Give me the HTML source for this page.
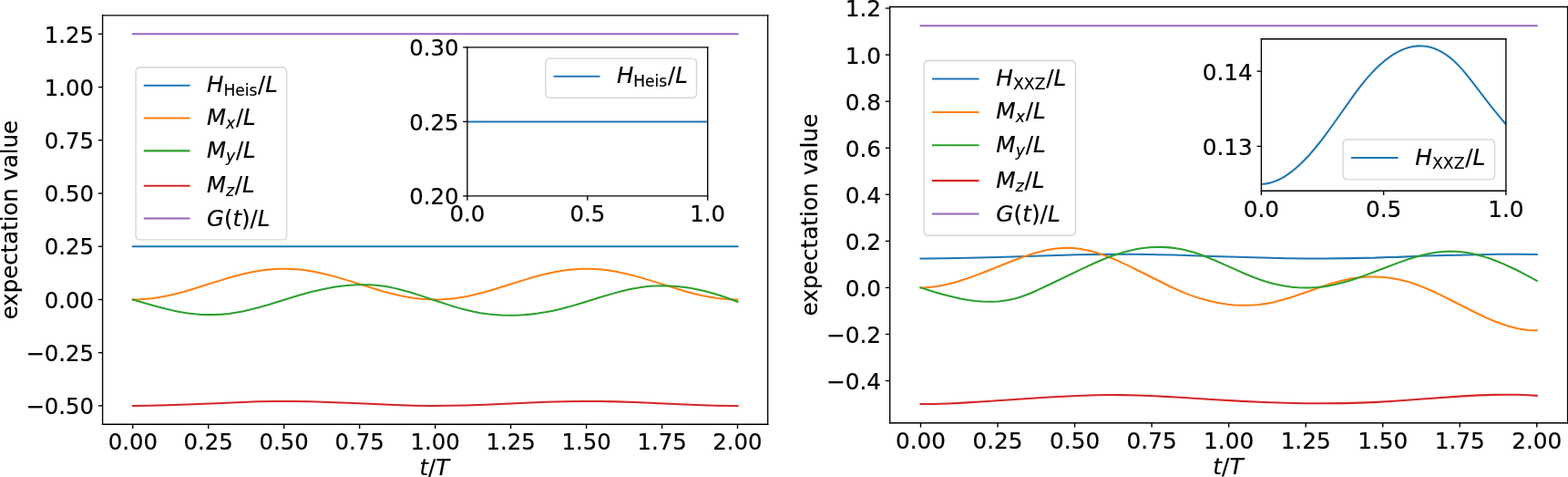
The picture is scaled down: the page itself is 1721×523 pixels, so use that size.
<!DOCTYPE html>
<html><head><meta charset="utf-8"><title>figure</title>
<style>html,body{margin:0;padding:0;background:#fff;overflow:hidden;width:1721px;height:523px;position:relative}svg{display:block;overflow:visible}
text{font-family:"DejaVu Sans",sans-serif;stroke:#000;stroke-width:0.15}</style></head>
<body>
<svg style="position:absolute;left:0px;top:0" width="862px" height="523px" viewBox="0 0 636.005903 385.882932" version="1.1">
<style>*{stroke-linejoin: round; stroke-linecap: butt}</style>
<g id="figure_1">
<g id="axes_1">
<g id="patch_1">
<path d="M 83.079193 343.310379 
L 621.765863 343.310379 
L 621.765863 12.469257 
L 83.079193 12.469257 
z
" style="fill: #ffffff"/>
</g>
<g id="matplotlib.axis_1">
<g id="xtick_1">
<g id="line2d_1">
<g>
<path d="M 0 0 
L 0 3.5 
" transform="translate(107.564951 343.310379)" style="stroke: #000000"/>
</g>
</g>
<g id="text_1">
<text style="font-size: 18px; font-family: 'DejaVu Sans', sans-serif; text-anchor: middle" x="107.564951" y="363.987566" transform="rotate(-0 107.564951 363.987566)">0.00</text>
</g>
</g>
<g id="xtick_2">
<g id="line2d_2">
<g>
<path d="M 0 0 
L 0 3.5 
" transform="translate(168.779345 343.310379)" style="stroke: #000000"/>
</g>
</g>
<g id="text_2">
<text style="font-size: 18px; font-family: 'DejaVu Sans', sans-serif; text-anchor: middle" x="168.779345" y="363.987566" transform="rotate(-0 168.779345 363.987566)">0.25</text>
</g>
</g>
<g id="xtick_3">
<g id="line2d_3">
<g>
<path d="M 0 0 
L 0 3.5 
" transform="translate(229.99374 343.310379)" style="stroke: #000000"/>
</g>
</g>
<g id="text_3">
<text style="font-size: 18px; font-family: 'DejaVu Sans', sans-serif; text-anchor: middle" x="229.99374" y="363.987566" transform="rotate(-0 229.99374 363.987566)">0.50</text>
</g>
</g>
<g id="xtick_4">
<g id="line2d_4">
<g>
<path d="M 0 0 
L 0 3.5 
" transform="translate(291.208134 343.310379)" style="stroke: #000000"/>
</g>
</g>
<g id="text_4">
<text style="font-size: 18px; font-family: 'DejaVu Sans', sans-serif; text-anchor: middle" x="291.208134" y="363.987566" transform="rotate(-0 291.208134 363.987566)">0.75</text>
</g>
</g>
<g id="xtick_5">
<g id="line2d_5">
<g>
<path d="M 0 0 
L 0 3.5 
" transform="translate(352.422528 343.310379)" style="stroke: #000000"/>
</g>
</g>
<g id="text_5">
<text style="font-size: 18px; font-family: 'DejaVu Sans', sans-serif; text-anchor: middle" x="352.422528" y="363.987566" transform="rotate(-0 352.422528 363.987566)">1.00</text>
</g>
</g>
<g id="xtick_6">
<g id="line2d_6">
<g>
<path d="M 0 0 
L 0 3.5 
" transform="translate(413.636923 343.310379)" style="stroke: #000000"/>
</g>
</g>
<g id="text_6">
<text style="font-size: 18px; font-family: 'DejaVu Sans', sans-serif; text-anchor: middle" x="413.636923" y="363.987566" transform="rotate(-0 413.636923 363.987566)">1.25</text>
</g>
</g>
<g id="xtick_7">
<g id="line2d_7">
<g>
<path d="M 0 0 
L 0 3.5 
" transform="translate(474.851317 343.310379)" style="stroke: #000000"/>
</g>
</g>
<g id="text_7">
<text style="font-size: 18px; font-family: 'DejaVu Sans', sans-serif; text-anchor: middle" x="474.851317" y="363.987566" transform="rotate(-0 474.851317 363.987566)">1.50</text>
</g>
</g>
<g id="xtick_8">
<g id="line2d_8">
<g>
<path d="M 0 0 
L 0 3.5 
" transform="translate(536.065711 343.310379)" style="stroke: #000000"/>
</g>
</g>
<g id="text_8">
<text style="font-size: 18px; font-family: 'DejaVu Sans', sans-serif; text-anchor: middle" x="536.065711" y="363.987566" transform="rotate(-0 536.065711 363.987566)">1.75</text>
</g>
</g>
<g id="xtick_9">
<g id="line2d_9">
<g>
<path d="M 0 0 
L 0 3.5 
" transform="translate(597.280106 343.310379)" style="stroke: #000000"/>
</g>
</g>
<g id="text_9">
<text style="font-size: 18px; font-family: 'DejaVu Sans', sans-serif; text-anchor: middle" x="597.280106" y="363.987566" transform="rotate(-0 597.280106 363.987566)">2.00</text>
</g>
</g>
<g id="xlab">
<g transform="translate(339.698 385.408)">
<text>
<tspan x="0" y="-0.875" style="font-style: oblique; font-size: 18px; font-family: 'DejaVu Sans', sans-serif">t</tspan>
<tspan x="13.12207" y="-0.875" style="font-style: oblique; font-size: 18px; font-family: 'DejaVu Sans', sans-serif">T</tspan>
<tspan x="7.057617" y="-0.875" style="font-size: 18px; font-family: 'DejaVu Sans', sans-serif">/</tspan>
</text>
</g>
</g>
</g>
<g id="matplotlib.axis_2">
<g id="ytick_1">
<g id="line2d_10">
<g>
<path d="M 0 0 
L -3.5 0 
" transform="translate(83.079193 328.272146)" style="stroke: #000000"/>
</g>
</g>
<g id="text_10">
<text style="font-size: 18px; font-family: 'DejaVu Sans', sans-serif; text-anchor: end" x="76.079193" y="335.11074" transform="rotate(-0 76.079193 335.11074)">−0.50</text>
</g>
</g>
<g id="ytick_2">
<g id="line2d_11">
<g>
<path d="M 0 0 
L -3.5 0 
" transform="translate(83.079193 285.305767)" style="stroke: #000000"/>
</g>
</g>
<g id="text_11">
<text style="font-size: 18px; font-family: 'DejaVu Sans', sans-serif; text-anchor: end" x="76.079193" y="292.14436" transform="rotate(-0 76.079193 292.14436)">−0.25</text>
</g>
</g>
<g id="ytick_3">
<g id="line2d_12">
<g>
<path d="M 0 0 
L -3.5 0 
" transform="translate(83.079193 242.339387)" style="stroke: #000000"/>
</g>
</g>
<g id="text_12">
<text style="font-size: 18px; font-family: 'DejaVu Sans', sans-serif; text-anchor: end" x="76.079193" y="249.177981" transform="rotate(-0 76.079193 249.177981)">0.00</text>
</g>
</g>
<g id="ytick_4">
<g id="line2d_13">
<g>
<path d="M 0 0 
L -3.5 0 
" transform="translate(83.079193 199.373008)" style="stroke: #000000"/>
</g>
</g>
<g id="text_13">
<text style="font-size: 18px; font-family: 'DejaVu Sans', sans-serif; text-anchor: end" x="76.079193" y="206.211601" transform="rotate(-0 76.079193 206.211601)">0.25</text>
</g>
</g>
<g id="ytick_5">
<g id="line2d_14">
<g>
<path d="M 0 0 
L -3.5 0 
" transform="translate(83.079193 156.406628)" style="stroke: #000000"/>
</g>
</g>
<g id="text_14">
<text style="font-size: 18px; font-family: 'DejaVu Sans', sans-serif; text-anchor: end" x="76.079193" y="163.245222" transform="rotate(-0 76.079193 163.245222)">0.50</text>
</g>
</g>
<g id="ytick_6">
<g id="line2d_15">
<g>
<path d="M 0 0 
L -3.5 0 
" transform="translate(83.079193 113.440249)" style="stroke: #000000"/>
</g>
</g>
<g id="text_15">
<text style="font-size: 18px; font-family: 'DejaVu Sans', sans-serif; text-anchor: end" x="76.079193" y="120.278843" transform="rotate(-0 76.079193 120.278843)">0.75</text>
</g>
</g>
<g id="ytick_7">
<g id="line2d_16">
<g>
<path d="M 0 0 
L -3.5 0 
" transform="translate(83.079193 70.473869)" style="stroke: #000000"/>
</g>
</g>
<g id="text_16">
<text style="font-size: 18px; font-family: 'DejaVu Sans', sans-serif; text-anchor: end" x="76.079193" y="77.312463" transform="rotate(-0 76.079193 77.312463)">1.00</text>
</g>
</g>
<g id="ytick_8">
<g id="line2d_17">
<g>
<path d="M 0 0 
L -3.5 0 
" transform="translate(83.079193 27.50749)" style="stroke: #000000"/>
</g>
</g>
<g id="text_17">
<text style="font-size: 18px; font-family: 'DejaVu Sans', sans-serif; text-anchor: end" x="76.079193" y="34.346084" transform="rotate(-0 76.079193 34.346084)">1.25</text>
</g>
</g>
<g id="ylab">
<text style="font-size: 18px; font-family: 'DejaVu Sans', sans-serif; text-anchor: middle" x="13.174193" y="177.889818" transform="translate(0.737826 0) rotate(-90 13.174193 177.889818)">expectation value</text>
</g>
</g>
<g id="line2d_18">
<path d="M 107.564951 199.373008 
L 597.280106 199.373008 
L 597.280106 199.373008 
" style="fill: none; stroke: #1f77b4; stroke-width: 1.5; stroke-linecap: square"/>
</g>
<g id="line2d_19">
<path d="M 107.564951 242.339387 
L 113.074247 242.21509 
L 118.583542 241.84468 
L 124.092837 241.235548 
L 129.602133 240.399846 
L 135.723572 239.225984 
L 141.845012 237.822 
L 148.578595 236.053233 
L 156.536466 233.730329 
L 168.167201 230.07594 
L 183.4708 225.293723 
L 191.428671 223.039885 
L 198.162255 221.351368 
L 204.283694 220.035584 
L 209.79299 219.057833 
L 215.302285 218.296019 
L 220.811581 217.765341 
L 226.320876 217.476388 
L 231.830171 217.434925 
L 237.339467 217.64178 
L 242.848762 218.092825 
L 248.358058 218.77906 
L 253.867353 219.686794 
L 259.988793 220.933 
L 266.722376 222.556938 
L 274.068104 224.575394 
L 283.250263 227.353684 
L 310.79674 235.88248 
L 318.142467 237.822 
L 324.263907 239.225984 
L 330.385346 240.399846 
L 335.894642 241.235548 
L 341.403937 241.84468 
L 346.913233 242.21509 
L 352.422528 242.339387 
L 357.931824 242.21509 
L 363.441119 241.84468 
L 368.950415 241.235548 
L 374.45971 240.399846 
L 380.58115 239.225984 
L 386.702589 237.822 
L 393.436172 236.053233 
L 401.394044 233.730329 
L 413.024779 230.07594 
L 428.328377 225.293723 
L 436.286248 223.039885 
L 443.019832 221.351368 
L 449.141271 220.035584 
L 454.650567 219.057833 
L 460.159862 218.296019 
L 465.669158 217.765341 
L 471.178453 217.476388 
L 476.687749 217.434925 
L 482.197044 217.64178 
L 487.70634 218.092825 
L 493.215635 218.77906 
L 498.724931 219.686794 
L 504.84637 220.933 
L 511.579953 222.556938 
L 518.925681 224.575394 
L 528.10784 227.353684 
L 555.654317 235.88248 
L 563.000045 237.822 
L 569.121484 239.225984 
L 575.242924 240.399846 
L 580.752219 241.235548 
L 586.261515 241.84468 
L 591.77081 242.21509 
L 597.280106 242.339387 
L 597.280106 242.339387 
" style="fill: none; stroke: #ff7f0e; stroke-width: 1.5; stroke-linecap: square"/>
</g>
<g id="line2d_20">
<path d="M 107.564951 242.337911 
L 124.704981 247.353298 
L 133.274997 249.62031 
L 140.620724 251.325525 
L 146.742163 252.526941 
L 152.251459 253.402847 
L 157.760754 254.055288 
L 163.27005 254.470522 
L 168.779345 254.647135 
L 174.288641 254.584126 
L 179.797936 254.280497 
L 185.307232 253.735248 
L 190.816527 252.947575 
L 196.325823 251.929252 
L 202.447262 250.56597 
L 209.180846 248.837657 
L 217.750861 246.385382 
L 231.218028 242.245595 
L 244.07305 238.362269 
L 252.030922 236.18147 
L 258.764505 234.550847 
L 265.498088 233.14825 
L 271.619528 232.092015 
L 277.740967 231.263566 
L 283.250263 230.728199 
L 288.759558 230.406164 
L 294.268854 230.311116 
L 299.778149 230.45671 
L 304.675301 230.799184 
L 309.572452 231.352174 
L 314.469604 232.124546 
L 319.978899 233.243449 
L 325.488195 234.588712 
L 332.221778 236.480684 
L 340.179649 238.971767 
L 353.034672 243.279285 
L 364.665407 247.101729 
L 372.011134 249.298439 
L 378.132574 250.916099 
L 383.641869 252.158054 
L 389.151165 253.178589 
L 394.66046 253.981163 
L 400.169756 254.570015 
L 405.679051 254.949384 
L 411.188347 255.123506 
L 417.309786 255.08141 
L 423.431226 254.796971 
L 429.552665 254.276002 
L 435.674105 253.524317 
L 441.795544 252.54773 
L 447.916983 251.352054 
L 454.038423 249.943267 
L 460.772006 248.172462 
L 469.342021 245.676837 
L 487.094196 240.181098 
L 496.888499 237.298441 
L 504.234226 235.358517 
L 510.355666 233.953801 
L 515.864961 232.896409 
L 521.374257 232.071052 
L 526.271408 231.553817 
L 531.16856 231.239304 
L 536.677855 231.12124 
L 542.187151 231.245598 
L 547.696446 231.604888 
L 553.205742 232.191622 
L 558.715037 232.998308 
L 564.224333 234.017459 
L 570.345772 235.389927 
L 576.467211 237.005177 
L 582.588651 238.852936 
L 588.71009 240.922931 
L 595.443674 243.444346 
L 597.280106 244.174719 
L 597.280106 244.174719 
" style="fill: none; stroke: #2ca02c; stroke-width: 1.5; stroke-linecap: square"/>
</g>
<g id="line2d_21">
<path d="M 107.564951 328.272146 
L 121.032118 328.163007 
L 135.111428 327.829837 
L 151.639315 327.212091 
L 209.180846 324.837076 
L 223.260156 324.607485 
L 236.727323 324.607485 
L 250.806634 324.837076 
L 266.110232 325.31765 
L 286.310982 326.194696 
L 319.978899 327.668503 
L 335.282498 328.09645 
L 349.361809 328.266455 
L 362.828975 328.206716 
L 376.908286 327.919577 
L 392.824029 327.3658 
L 417.309786 326.25234 
L 441.795544 325.20524 
L 457.099143 324.768245 
L 471.178453 324.588189 
L 484.64562 324.637994 
L 498.724931 324.915705 
L 514.640673 325.461499 
L 537.902143 326.513033 
L 564.224333 327.646902 
L 579.527931 328.083897 
L 593.607242 328.263953 
L 597.280106 328.272146 
L 597.280106 328.272146 
" style="fill: none; stroke: #d62728; stroke-width: 1.5; stroke-linecap: square"/>
</g>
<g id="line2d_22">
<path d="M 107.564951 27.50749 
L 597.280106 27.50749 
L 597.280106 27.50749 
" style="fill: none; stroke: #9467bd; stroke-width: 1.5; stroke-linecap: square"/>
</g>
<g id="patch_2">
<path d="M 83.079193 343.310379 
L 83.079193 12.469257 
" style="fill: none; stroke: #000000; stroke-linejoin: miter; stroke-linecap: square"/>
</g>
<g id="patch_3">
<path d="M 621.765863 343.310379 
L 621.765863 12.469257 
" style="fill: none; stroke: #000000; stroke-linejoin: miter; stroke-linecap: square"/>
</g>
<g id="patch_4">
<path d="M 83.079193 343.310379 
L 621.765863 343.310379 
" style="fill: none; stroke: #000000; stroke-linejoin: miter; stroke-linecap: square"/>
</g>
<g id="patch_5">
<path d="M 83.079193 12.469257 
L 621.765863 12.469257 
" style="fill: none; stroke: #000000; stroke-linejoin: miter; stroke-linecap: square"/>
</g>
<g id="legend_1">
<g id="patch_6">
<path d="M 113.536055 193.938802 
L 228.556055 193.938802 
Q 232.156055 193.938802 232.156055 190.338802 
L 232.156055 58.199115 
Q 232.156055 54.599115 228.556055 54.599115 
L 113.536055 54.599115 
Q 109.936055 54.599115 109.936055 58.199115 
L 109.936055 190.338802 
Q 109.936055 193.938802 113.536055 193.938802 
z
" style="fill: #ffffff; opacity: 0.8; stroke: #cccccc; stroke-linejoin: miter"/>
</g>
<g id="line2d_23">
<path d="M 117.136055 69.176302 
L 135.136055 69.176302 
L 153.136055 69.176302 
" style="fill: none; stroke: #1f77b4; stroke-width: 1.5; stroke-linecap: square"/>
</g>
<g id="text_18">
<g transform="translate(167.536055 75.476302)">
<text>
<tspan x="0" y="-0.875" style="font-style: oblique; font-size: 18px; font-family: 'DejaVu Sans', sans-serif">H</tspan>
<tspan x="47.383594" y="-0.875" style="font-style: oblique; font-size: 18px; font-family: 'DejaVu Sans', sans-serif">L</tspan>
<tspan x="13.535156" y="2.078125" style="font-size: 12.6px; font-family: 'DejaVu Sans', sans-serif">H</tspan>
<tspan x="23.009766" y="2.078125" style="font-size: 12.6px; font-family: 'DejaVu Sans', sans-serif">e</tspan>
<tspan x="30.761719" y="2.078125" style="font-size: 12.6px; font-family: 'DejaVu Sans', sans-serif">i</tspan>
<tspan x="34.262402" y="2.078125" style="font-size: 12.6px; font-family: 'DejaVu Sans', sans-serif">s</tspan>
<tspan x="41.319141" y="-0.875" style="font-size: 18px; font-family: 'DejaVu Sans', sans-serif">/</tspan>
</text>
</g>
</g>
<g id="line2d_24">
<path d="M 117.136055 95.596927 
L 135.136055 95.596927 
L 153.136055 95.596927 
" style="fill: none; stroke: #ff7f0e; stroke-width: 1.5; stroke-linecap: square"/>
</g>
<g id="text_19">
<g transform="translate(167.536055 101.896927)">
<text>
<tspan x="0" y="-0.875" style="font-style: oblique; font-size: 18px; font-family: 'DejaVu Sans', sans-serif">M</tspan>
<tspan x="29.543555" y="-0.875" style="font-style: oblique; font-size: 18px; font-family: 'DejaVu Sans', sans-serif">L</tspan>
<tspan x="15.530273" y="2.078125" style="font-style: oblique; font-size: 12.6px; font-family: 'DejaVu Sans', sans-serif">x</tspan>
<tspan x="23.479102" y="-0.875" style="font-size: 18px; font-family: 'DejaVu Sans', sans-serif">/</tspan>
</text>
</g>
</g>
<g id="line2d_25">
<path d="M 117.136055 122.017552 
L 135.136055 122.017552 
L 153.136055 122.017552 
" style="fill: none; stroke: #2ca02c; stroke-width: 1.5; stroke-linecap: square"/>
</g>
<g id="text_20">
<g transform="translate(167.536055 128.317552)">
<text>
<tspan x="0" y="-0.875" style="font-style: oblique; font-size: 18px; font-family: 'DejaVu Sans', sans-serif">M</tspan>
<tspan x="29.543555" y="-0.875" style="font-style: oblique; font-size: 18px; font-family: 'DejaVu Sans', sans-serif">L</tspan>
<tspan x="15.530273" y="2.078125" style="font-style: oblique; font-size: 12.6px; font-family: 'DejaVu Sans', sans-serif">y</tspan>
<tspan x="23.479102" y="-0.875" style="font-size: 18px; font-family: 'DejaVu Sans', sans-serif">/</tspan>
</text>
</g>
</g>
<g id="line2d_26">
<path d="M 117.136055 150.27474 
L 135.136055 150.27474 
L 153.136055 150.27474 
" style="fill: none; stroke: #d62728; stroke-width: 1.5; stroke-linecap: square"/>
</g>
<g id="text_21">
<g transform="translate(167.536055 156.57474)">
<text>
<tspan x="0" y="-0.875" style="font-style: oblique; font-size: 18px; font-family: 'DejaVu Sans', sans-serif">M</tspan>
<tspan x="28.700684" y="-0.875" style="font-style: oblique; font-size: 18px; font-family: 'DejaVu Sans', sans-serif">L</tspan>
<tspan x="15.530273" y="2.078125" style="font-style: oblique; font-size: 12.6px; font-family: 'DejaVu Sans', sans-serif">z</tspan>
<tspan x="22.63623" y="-0.875" style="font-size: 18px; font-family: 'DejaVu Sans', sans-serif">/</tspan>
</text>
</g>
</g>
<g id="line2d_27">
<path d="M 117.136055 176.695365 
L 135.136055 176.695365 
L 153.136055 176.695365 
" style="fill: none; stroke: #9467bd; stroke-width: 1.5; stroke-linecap: square"/>
</g>
<g id="text_22">
<g transform="translate(167.536055 182.995365)">
<text>
<tspan x="0" y="-0.34375" style="font-style: oblique; font-size: 18px; font-family: 'DejaVu Sans', sans-serif">G</tspan>
<tspan x="20.970703" y="-0.34375" style="font-style: oblique; font-size: 18px; font-family: 'DejaVu Sans', sans-serif">t</tspan>
<tspan x="41.115234" y="-0.34375" style="font-style: oblique; font-size: 18px; font-family: 'DejaVu Sans', sans-serif">L</tspan>
<tspan x="13.948242" y="-0.34375" style="font-size: 18px; font-family: 'DejaVu Sans', sans-serif">(</tspan>
<tspan x="28.02832" y="-0.34375" style="font-size: 18px; font-family: 'DejaVu Sans', sans-serif">)</tspan>
<tspan x="35.050781" y="-0.34375" style="font-size: 18px; font-family: 'DejaVu Sans', sans-serif">/</tspan>
</text>
</g>
</g>
</g>
</g>
<g id="axes_2">
<g id="patch_7">
<path d="M 378.43089 158.55878 
L 573.069356 158.55878 
L 573.069356 38.293163 
L 378.43089 38.293163 
z
" style="fill: #ffffff"/>
</g>
<g id="matplotlib.axis_3">
<g id="xtick_10">
<g id="line2d_28">
<g>
<path d="M 0 0 
L 0 3.5 
" transform="translate(378.43089 158.55878)" style="stroke: #000000"/>
</g>
</g>
<g id="text_23">
<text style="font-size: 18px; font-family: 'DejaVu Sans', sans-serif; text-anchor: middle" x="378.43089" y="179.235968" transform="rotate(-0 378.43089 179.235968)">0.0</text>
</g>
</g>
<g id="xtick_11">
<g id="line2d_29">
<g>
<path d="M 0 0 
L 0 3.5 
" transform="translate(475.750123 158.55878)" style="stroke: #000000"/>
</g>
</g>
<g id="text_24">
<text style="font-size: 18px; font-family: 'DejaVu Sans', sans-serif; text-anchor: middle" x="475.750123" y="179.235968" transform="rotate(-0 475.750123 179.235968)">0.5</text>
</g>
</g>
<g id="xtick_12">
<g id="line2d_30">
<g>
<path d="M 0 0 
L 0 3.5 
" transform="translate(573.069356 158.55878)" style="stroke: #000000"/>
</g>
</g>
<g id="text_25">
<text style="font-size: 18px; font-family: 'DejaVu Sans', sans-serif; text-anchor: middle" x="573.069356" y="179.235968" transform="rotate(-0 573.069356 179.235968)">1.0</text>
</g>
</g>
</g>
<g id="matplotlib.axis_4">
<g id="ytick_9">
<g id="line2d_31">
<g>
<path d="M 0 0 
L -3.5 0 
" transform="translate(378.43089 158.55878)" style="stroke: #000000"/>
</g>
</g>
<g id="text_26">
<text style="font-size: 18px; font-family: 'DejaVu Sans', sans-serif; text-anchor: end" x="371.43089" y="165.397374" transform="rotate(-0 371.43089 165.397374)">0.20</text>
</g>
</g>
<g id="ytick_10">
<g id="line2d_32">
<g>
<path d="M 0 0 
L -3.5 0 
" transform="translate(378.43089 98.425971)" style="stroke: #000000"/>
</g>
</g>
<g id="text_27">
<text style="font-size: 18px; font-family: 'DejaVu Sans', sans-serif; text-anchor: end" x="371.43089" y="105.264565" transform="rotate(-0 371.43089 105.264565)">0.25</text>
</g>
</g>
<g id="ytick_11">
<g id="line2d_33">
<g>
<path d="M 0 0 
L -3.5 0 
" transform="translate(378.43089 38.293163)" style="stroke: #000000"/>
</g>
</g>
<g id="text_28">
<text style="font-size: 18px; font-family: 'DejaVu Sans', sans-serif; text-anchor: end" x="371.43089" y="45.131757" transform="rotate(-0 371.43089 45.131757)">0.30</text>
</g>
</g>
</g>
<g id="line2d_34">
<path d="M 378.43089 98.425971 
L 573.069356 98.425971 
L 573.069356 98.425971 
" style="fill: none; stroke: #1f77b4; stroke-width: 1.5"/>
</g>
<g id="patch_8">
<path d="M 378.43089 158.55878 
L 378.43089 38.293163 
" style="fill: none; stroke: #000000; stroke-linejoin: miter; stroke-linecap: square"/>
</g>
<g id="patch_9">
<path d="M 573.069356 158.55878 
L 573.069356 38.293163 
" style="fill: none; stroke: #000000; stroke-linejoin: miter; stroke-linecap: square"/>
</g>
<g id="patch_10">
<path d="M 378.43089 158.55878 
L 573.069356 158.55878 
" style="fill: none; stroke: #000000; stroke-linejoin: miter; stroke-linecap: square"/>
</g>
<g id="patch_11">
<path d="M 378.43089 38.293163 
L 573.069356 38.293163 
" style="fill: none; stroke: #000000; stroke-linejoin: miter; stroke-linecap: square"/>
</g>
<g id="legend_2">
<g id="patch_12">
<path d="M 445.449356 79.113788 
L 560.469356 79.113788 
Q 564.069356 79.113788 564.069356 75.513788 
L 564.069356 50.893163 
Q 564.069356 47.293163 560.469356 47.293163 
L 445.449356 47.293163 
Q 441.849356 47.293163 441.849356 50.893163 
L 441.849356 75.513788 
Q 441.849356 79.113788 445.449356 79.113788 
z
" style="fill: #ffffff; opacity: 0.8; stroke: #cccccc; stroke-linejoin: miter"/>
</g>
<g id="line2d_35">
<path d="M 449.049356 61.87035 
L 467.049356 61.87035 
L 485.049356 61.87035 
" style="fill: none; stroke: #1f77b4; stroke-width: 1.5; stroke-linecap: square"/>
</g>
<g id="text_29">
<g transform="translate(499.449356 68.17035)">
<text>
<tspan x="0" y="-0.875" style="font-style: oblique; font-size: 18px; font-family: 'DejaVu Sans', sans-serif">H</tspan>
<tspan x="47.383594" y="-0.875" style="font-style: oblique; font-size: 18px; font-family: 'DejaVu Sans', sans-serif">L</tspan>
<tspan x="13.535156" y="2.078125" style="font-size: 12.6px; font-family: 'DejaVu Sans', sans-serif">H</tspan>
<tspan x="23.009766" y="2.078125" style="font-size: 12.6px; font-family: 'DejaVu Sans', sans-serif">e</tspan>
<tspan x="30.761719" y="2.078125" style="font-size: 12.6px; font-family: 'DejaVu Sans', sans-serif">i</tspan>
<tspan x="34.262402" y="2.078125" style="font-size: 12.6px; font-family: 'DejaVu Sans', sans-serif">s</tspan>
<tspan x="41.319141" y="-0.875" style="font-size: 18px; font-family: 'DejaVu Sans', sans-serif">/</tspan>
</text>
</g>
</g>
</g>
</g>
</g>
</svg>
<svg style="position:absolute;left:862px;top:0" width="859px" height="523px" viewBox="0 0 624.273256 380.087209" version="1.1">
<style>*{stroke-linejoin: round; stroke-linecap: butt}</style>
<g id="figure_1">
<g id="axes_1">
<g id="patch_1">
<path d="M 83.357558 337.063953 
L 623.982558 337.063953 
L 623.982558 5.414244 
L 83.357558 5.414244 
z
" style="fill: #ffffff"/>
</g>
<g id="matplotlib.axis_1">
<g id="xtick_1">
<g id="line2d_1">
<g>
<path d="M 0 0 
L 0 3.5 
" transform="translate(107.931422 337.063953)" style="stroke: #000000"/>
</g>
</g>
<g id="text_1">
<text style="font-size: 18px; font-family: 'DejaVu Sans', sans-serif; text-anchor: middle" x="107.931422" y="357.741141" transform="rotate(-0 107.931422 357.741141)">0.00</text>
</g>
</g>
<g id="xtick_2">
<g id="line2d_2">
<g>
<path d="M 0 0 
L 0 3.5 
" transform="translate(169.366081 337.063953)" style="stroke: #000000"/>
</g>
</g>
<g id="text_2">
<text style="font-size: 18px; font-family: 'DejaVu Sans', sans-serif; text-anchor: middle" x="169.366081" y="357.741141" transform="rotate(-0 169.366081 357.741141)">0.25</text>
</g>
</g>
<g id="xtick_3">
<g id="line2d_3">
<g>
<path d="M 0 0 
L 0 3.5 
" transform="translate(230.80074 337.063953)" style="stroke: #000000"/>
</g>
</g>
<g id="text_3">
<text style="font-size: 18px; font-family: 'DejaVu Sans', sans-serif; text-anchor: middle" x="230.80074" y="357.741141" transform="rotate(-0 230.80074 357.741141)">0.50</text>
</g>
</g>
<g id="xtick_4">
<g id="line2d_4">
<g>
<path d="M 0 0 
L 0 3.5 
" transform="translate(292.235399 337.063953)" style="stroke: #000000"/>
</g>
</g>
<g id="text_4">
<text style="font-size: 18px; font-family: 'DejaVu Sans', sans-serif; text-anchor: middle" x="292.235399" y="357.741141" transform="rotate(-0 292.235399 357.741141)">0.75</text>
</g>
</g>
<g id="xtick_5">
<g id="line2d_5">
<g>
<path d="M 0 0 
L 0 3.5 
" transform="translate(353.670058 337.063953)" style="stroke: #000000"/>
</g>
</g>
<g id="text_5">
<text style="font-size: 18px; font-family: 'DejaVu Sans', sans-serif; text-anchor: middle" x="353.670058" y="357.741141" transform="rotate(-0 353.670058 357.741141)">1.00</text>
</g>
</g>
<g id="xtick_6">
<g id="line2d_6">
<g>
<path d="M 0 0 
L 0 3.5 
" transform="translate(415.104717 337.063953)" style="stroke: #000000"/>
</g>
</g>
<g id="text_6">
<text style="font-size: 18px; font-family: 'DejaVu Sans', sans-serif; text-anchor: middle" x="415.104717" y="357.741141" transform="rotate(-0 415.104717 357.741141)">1.25</text>
</g>
</g>
<g id="xtick_7">
<g id="line2d_7">
<g>
<path d="M 0 0 
L 0 3.5 
" transform="translate(476.539376 337.063953)" style="stroke: #000000"/>
</g>
</g>
<g id="text_7">
<text style="font-size: 18px; font-family: 'DejaVu Sans', sans-serif; text-anchor: middle" x="476.539376" y="357.741141" transform="rotate(-0 476.539376 357.741141)">1.50</text>
</g>
</g>
<g id="xtick_8">
<g id="line2d_8">
<g>
<path d="M 0 0 
L 0 3.5 
" transform="translate(537.974035 337.063953)" style="stroke: #000000"/>
</g>
</g>
<g id="text_8">
<text style="font-size: 18px; font-family: 'DejaVu Sans', sans-serif; text-anchor: middle" x="537.974035" y="357.741141" transform="rotate(-0 537.974035 357.741141)">1.75</text>
</g>
</g>
<g id="xtick_9">
<g id="line2d_9">
<g>
<path d="M 0 0 
L 0 3.5 
" transform="translate(599.408695 337.063953)" style="stroke: #000000"/>
</g>
</g>
<g id="text_9">
<text style="font-size: 18px; font-family: 'DejaVu Sans', sans-serif; text-anchor: middle" x="599.408695" y="357.741141" transform="rotate(-0 599.408695 357.741141)">2.00</text>
</g>
</g>
<g id="xlab">
<g transform="translate(341.101 378.435)">
<text>
<tspan x="0" y="-0.875" style="font-style: oblique; font-size: 18px; font-family: 'DejaVu Sans', sans-serif">t</tspan>
<tspan x="13.12207" y="-0.875" style="font-style: oblique; font-size: 18px; font-family: 'DejaVu Sans', sans-serif">T</tspan>
<tspan x="7.057617" y="-0.875" style="font-size: 18px; font-family: 'DejaVu Sans', sans-serif">/</tspan>
</text>
</g>
</g>
</g>
<g id="matplotlib.axis_2">
<g id="ytick_1">
<g id="line2d_10">
<g>
<path d="M 0 0 
L -3.5 0 
" transform="translate(83.357558 303.435137)" style="stroke: #000000"/>
</g>
</g>
<g id="text_10">
<text style="font-size: 18px; font-family: 'DejaVu Sans', sans-serif; text-anchor: end" x="76.357558" y="310.273731" transform="rotate(-0 76.357558 310.273731)">−0.4</text>
</g>
</g>
<g id="ytick_2">
<g id="line2d_11">
<g>
<path d="M 0 0 
L -3.5 0 
" transform="translate(83.357558 266.327477)" style="stroke: #000000"/>
</g>
</g>
<g id="text_11">
<text style="font-size: 18px; font-family: 'DejaVu Sans', sans-serif; text-anchor: end" x="76.357558" y="273.166071" transform="rotate(-0 76.357558 273.166071)">−0.2</text>
</g>
</g>
<g id="ytick_3">
<g id="line2d_12">
<g>
<path d="M 0 0 
L -3.5 0 
" transform="translate(83.357558 229.219817)" style="stroke: #000000"/>
</g>
</g>
<g id="text_12">
<text style="font-size: 18px; font-family: 'DejaVu Sans', sans-serif; text-anchor: end" x="76.357558" y="236.058411" transform="rotate(-0 76.357558 236.058411)">0.0</text>
</g>
</g>
<g id="ytick_4">
<g id="line2d_13">
<g>
<path d="M 0 0 
L -3.5 0 
" transform="translate(83.357558 192.112157)" style="stroke: #000000"/>
</g>
</g>
<g id="text_13">
<text style="font-size: 18px; font-family: 'DejaVu Sans', sans-serif; text-anchor: end" x="76.357558" y="198.950751" transform="rotate(-0 76.357558 198.950751)">0.2</text>
</g>
</g>
<g id="ytick_5">
<g id="line2d_14">
<g>
<path d="M 0 0 
L -3.5 0 
" transform="translate(83.357558 155.004498)" style="stroke: #000000"/>
</g>
</g>
<g id="text_14">
<text style="font-size: 18px; font-family: 'DejaVu Sans', sans-serif; text-anchor: end" x="76.357558" y="161.843091" transform="rotate(-0 76.357558 161.843091)">0.4</text>
</g>
</g>
<g id="ytick_6">
<g id="line2d_15">
<g>
<path d="M 0 0 
L -3.5 0 
" transform="translate(83.357558 117.896838)" style="stroke: #000000"/>
</g>
</g>
<g id="text_15">
<text style="font-size: 18px; font-family: 'DejaVu Sans', sans-serif; text-anchor: end" x="76.357558" y="124.735432" transform="rotate(-0 76.357558 124.735432)">0.6</text>
</g>
</g>
<g id="ytick_7">
<g id="line2d_16">
<g>
<path d="M 0 0 
L -3.5 0 
" transform="translate(83.357558 80.789178)" style="stroke: #000000"/>
</g>
</g>
<g id="text_16">
<text style="font-size: 18px; font-family: 'DejaVu Sans', sans-serif; text-anchor: end" x="76.357558" y="87.627772" transform="rotate(-0 76.357558 87.627772)">0.8</text>
</g>
</g>
<g id="ytick_8">
<g id="line2d_17">
<g>
<path d="M 0 0 
L -3.5 0 
" transform="translate(83.357558 43.681518)" style="stroke: #000000"/>
</g>
</g>
<g id="text_17">
<text style="font-size: 18px; font-family: 'DejaVu Sans', sans-serif; text-anchor: end" x="76.357558" y="50.520112" transform="rotate(-0 76.357558 50.520112)">1.0</text>
</g>
</g>
<g id="ytick_9">
<g id="line2d_18">
<g>
<path d="M 0 0 
L -3.5 0 
" transform="translate(83.357558 6.573859)" style="stroke: #000000"/>
</g>
</g>
<g id="text_18">
<text style="font-size: 18px; font-family: 'DejaVu Sans', sans-serif; text-anchor: end" x="76.357558" y="13.412452" transform="rotate(-0 76.357558 13.412452)">1.2</text>
</g>
</g>
<g id="ylab">
<text style="font-size: 18px; font-family: 'DejaVu Sans', sans-serif; text-anchor: middle" x="24.905058" y="171.239099" transform="translate(0.726744 0) rotate(-90 24.905058 171.239099)">expectation value</text>
</g>
</g>
<g id="line2d_19">
<path d="M 107.931422 206.033277 
L 126.36182 205.914063 
L 146.635257 205.552175 
L 169.366081 204.917175 
L 233.258126 202.957061 
L 253.531564 202.676673 
L 273.190655 202.629335 
L 291.621052 202.804749 
L 309.437104 203.19263 
L 340.76878 204.178142 
L 399.746052 205.85497 
L 415.719064 206.093469 
L 429.849035 206.070827 
L 451.351166 205.777004 
L 470.39591 205.376 
L 480.225456 204.877971 
L 488.211962 204.850178 
L 510.328439 203.851872 
L 569.920058 202.524764 
L 585.89307 202.522837 
L 599.408695 202.694074 
L 599.408695 202.694074 
" style="fill: none; stroke: #1f77b4; stroke-width: 1.5; stroke-linecap: square"/>
</g>
<g id="line2d_20">
<path d="M 107.931422 229.220078 
L 112.231848 229.090431 
L 116.532274 228.734024 
L 120.8327 228.168145 
L 125.747473 227.287101 
L 130.662246 226.180839 
L 136.191365 224.699218 
L 142.334831 222.80165 
L 149.092643 220.466979 
L 157.079149 217.462845 
L 169.366081 212.566797 
L 183.496052 206.990494 
L 190.868212 204.302535 
L 197.011677 202.280415 
L 202.540797 200.690086 
L 207.45557 199.500788 
L 211.755996 198.661989 
L 216.056422 198.036077 
L 220.356848 197.646445 
L 224.042927 197.518265 
L 227.729007 197.594705 
L 231.415087 197.875309 
L 235.715513 198.444729 
L 240.015939 199.256215 
L 244.316365 200.290236 
L 249.231138 201.719414 
L 254.14591 203.384588 
L 259.67503 205.503698 
L 265.818496 208.114811 
L 272.576308 211.233174 
L 281.17716 215.458684 
L 308.20841 228.939378 
L 314.966223 231.960926 
L 321.109689 234.457243 
L 326.638808 236.458884 
L 332.167927 238.217149 
L 337.697047 239.726537 
L 343.226166 240.981549 
L 348.140939 241.87912 
L 353.055712 242.567496 
L 357.970484 243.042814 
L 362.885257 243.301211 
L 367.80003 243.338827 
L 372.714802 243.151797 
L 377.629575 242.736261 
L 382.544348 242.088355 
L 387.459121 241.204218 
L 392.373893 240.087525 
L 397.903013 238.593392 
L 404.046479 236.702326 
L 412.032984 234.000757 
L 433.535115 226.585136 
L 439.678581 224.756222 
L 445.2077 223.336352 
L 450.122473 222.299907 
L 455.037246 221.500955 
L 459.952018 220.94281 
L 464.866791 220.627327 
L 469.781564 220.55636 
L 474.696337 220.731763 
L 479.611109 221.155391 
L 484.525882 221.829097 
L 489.440655 222.754738 
L 494.355427 223.934165 
L 499.2702 225.369195 
L 504.184973 227.052081 
L 509.714092 229.204614 
L 515.857558 231.863844 
L 522.615371 235.04068 
L 531.83057 239.648593 
L 552.718354 250.210405 
L 559.476166 253.346975 
L 565.619632 255.956789 
L 571.148751 258.054414 
L 576.063524 259.680197 
L 580.36395 260.891656 
L 584.664376 261.883199 
L 588.964802 262.632976 
L 592.650882 263.066654 
L 596.336962 263.292898 
L 599.408695 263.313051 
L 599.408695 263.313051 
" style="fill: none; stroke: #ff7f0e; stroke-width: 1.5; stroke-linecap: square"/>
</g>
<g id="line2d_21">
<path d="M 107.931422 229.221382 
L 119.604007 232.851131 
L 127.590513 235.109569 
L 134.348325 236.800077 
L 140.491791 238.112687 
L 146.02091 239.076375 
L 151.55003 239.802833 
L 156.464802 240.225232 
L 161.379575 240.415542 
L 165.680001 240.375159 
L 169.980427 240.12692 
L 174.280854 239.65675 
L 178.58128 238.950572 
L 182.881706 237.994311 
L 186.567785 236.964943 
L 190.868212 235.515033 
L 195.168638 233.834893 
L 200.697757 231.420964 
L 208.684263 227.641963 
L 238.787246 213.220367 
L 247.388098 209.307072 
L 254.14591 206.448364 
L 260.289376 204.078655 
L 265.818496 202.177262 
L 270.733268 200.70318 
L 275.648041 199.456557 
L 280.562814 198.44602 
L 285.477587 197.676797 
L 290.392359 197.154118 
L 295.307132 196.883212 
L 299.607558 196.856814 
L 303.907984 197.030687 
L 308.20841 197.408335 
L 312.508837 197.993261 
L 316.809263 198.788968 
L 321.109689 199.798952 
L 325.410115 201.01961 
L 330.324888 202.641434 
L 335.854007 204.705484 
L 342.61182 207.489293 
L 351.827018 211.563643 
L 367.185683 218.378048 
L 373.943496 221.112725 
L 379.472615 223.120812 
L 384.387388 224.683876 
L 389.30216 226.02254 
L 394.216933 227.135277 
L 399.131706 228.020658 
L 404.046479 228.677254 
L 408.961251 229.103633 
L 413.876024 229.298368 
L 418.790797 229.260027 
L 423.70557 228.987181 
L 428.620342 228.4784 
L 433.535115 227.732255 
L 438.449888 226.749523 
L 443.36466 225.549861 
L 448.89378 223.977357 
L 455.037246 222.002304 
L 462.409405 219.393782 
L 472.853297 215.436569 
L 488.826308 209.37747 
L 496.198467 206.817501 
L 502.341933 204.899091 
L 507.871052 203.390146 
L 512.785825 202.256986 
L 517.700598 201.350247 
L 522.001024 200.765633 
L 526.30145 200.39646 
L 530.601876 200.262364 
L 534.902302 200.37639 
L 539.202729 200.73011 
L 543.503155 201.310732 
L 547.803581 202.105468 
L 552.718354 203.259508 
L 557.633126 204.657409 
L 562.547899 206.280078 
L 568.077018 208.350477 
L 573.606138 210.654001 
L 579.749604 213.453827 
L 586.507416 216.782787 
L 594.493922 220.987603 
L 599.408695 223.687473 
L 599.408695 223.687473 
" style="fill: none; stroke: #2ca02c; stroke-width: 1.5; stroke-linecap: square"/>
</g>
<g id="line2d_22">
<path d="M 107.931422 321.987073 
L 118.375314 321.893384 
L 129.433552 321.566182 
L 142.334831 320.950668 
L 158.307842 319.948243 
L 209.912956 316.51701 
L 232.64378 315.410467 
L 247.388098 314.872778 
L 257.83199 314.709225 
L 268.890229 314.756456 
L 281.17716 315.035212 
L 295.307132 315.592296 
L 311.89449 316.478351 
L 340.154433 318.2556 
L 364.11395 319.670704 
L 381.930001 320.494464 
L 398.517359 321.046645 
L 414.490371 321.360305 
L 429.849035 321.440473 
L 444.593354 321.295764 
L 458.723325 320.937936 
L 472.23895 320.381463 
L 485.754575 319.60581 
L 502.95628 318.378692 
L 539.817075 315.684685 
L 553.3327 314.964469 
L 564.390939 314.587078 
L 574.834831 314.455244 
L 584.05003 314.555128 
L 592.650882 314.858486 
L 599.408695 315.255225 
L 599.408695 315.255225 
" style="fill: none; stroke: #d62728; stroke-width: 1.5; stroke-linecap: square"/>
</g>
<g id="line2d_23">
<path d="M 107.931422 20.489231 
L 599.408695 20.489231 
L 599.408695 20.489231 
" style="fill: none; stroke: #9467bd; stroke-width: 1.5; stroke-linecap: square"/>
</g>
<g id="patch_2">
<path d="M 83.357558 337.063953 
L 83.357558 5.414244 
" style="fill: none; stroke: #000000; stroke-linejoin: miter; stroke-linecap: square"/>
</g>
<g id="patch_3">
<path d="M 623.982558 337.063953 
L 623.982558 5.414244 
" style="fill: none; stroke: #000000; stroke-linejoin: miter; stroke-linecap: square"/>
</g>
<g id="patch_4">
<path d="M 83.357558 337.063953 
L 623.982558 337.063953 
" style="fill: none; stroke: #000000; stroke-linejoin: miter; stroke-linecap: square"/>
</g>
<g id="patch_5">
<path d="M 83.357558 5.414244 
L 623.982558 5.414244 
" style="fill: none; stroke: #000000; stroke-linejoin: miter; stroke-linecap: square"/>
</g>
<g id="legend_1">
<g id="patch_6">
<path d="M 114.137791 187.668176 
L 227.897791 187.668176 
Q 231.497791 187.668176 231.497791 184.068176 
L 231.497791 51.928488 
Q 231.497791 48.328488 227.897791 48.328488 
L 114.137791 48.328488 
Q 110.537791 48.328488 110.537791 51.928488 
L 110.537791 184.068176 
Q 110.537791 187.668176 114.137791 187.668176 
z
" style="fill: #ffffff; opacity: 0.8; stroke: #cccccc; stroke-linejoin: miter"/>
</g>
<g id="line2d_24">
<path d="M 117.737791 62.905676 
L 135.737791 62.905676 
L 153.737791 62.905676 
" style="fill: none; stroke: #1f77b4; stroke-width: 1.5; stroke-linecap: square"/>
</g>
<g id="text_19">
<g transform="translate(168.137791 69.205676)">
<text>
<tspan x="0" y="-0.875" style="font-style: oblique; font-size: 18px; font-family: 'DejaVu Sans', sans-serif">H</tspan>
<tspan x="45.987012" y="-0.875" style="font-style: oblique; font-size: 18px; font-family: 'DejaVu Sans', sans-serif">L</tspan>
<tspan x="13.535156" y="2.078125" style="font-size: 12.6px; font-family: 'DejaVu Sans', sans-serif">X</tspan>
<tspan x="22.166895" y="2.078125" style="font-size: 12.6px; font-family: 'DejaVu Sans', sans-serif">X</tspan>
<tspan x="30.798633" y="2.078125" style="font-size: 12.6px; font-family: 'DejaVu Sans', sans-serif">Z</tspan>
<tspan x="39.922559" y="-0.875" style="font-size: 18px; font-family: 'DejaVu Sans', sans-serif">/</tspan>
</text>
</g>
</g>
<g id="line2d_25">
<path d="M 117.737791 89.326301 
L 135.737791 89.326301 
L 153.737791 89.326301 
" style="fill: none; stroke: #ff7f0e; stroke-width: 1.5; stroke-linecap: square"/>
</g>
<g id="text_20">
<g transform="translate(168.137791 95.626301)">
<text>
<tspan x="0" y="-0.875" style="font-style: oblique; font-size: 18px; font-family: 'DejaVu Sans', sans-serif">M</tspan>
<tspan x="29.543555" y="-0.875" style="font-style: oblique; font-size: 18px; font-family: 'DejaVu Sans', sans-serif">L</tspan>
<tspan x="15.530273" y="2.078125" style="font-style: oblique; font-size: 12.6px; font-family: 'DejaVu Sans', sans-serif">x</tspan>
<tspan x="23.479102" y="-0.875" style="font-size: 18px; font-family: 'DejaVu Sans', sans-serif">/</tspan>
</text>
</g>
</g>
<g id="line2d_26">
<path d="M 117.737791 115.746926 
L 135.737791 115.746926 
L 153.737791 115.746926 
" style="fill: none; stroke: #2ca02c; stroke-width: 1.5; stroke-linecap: square"/>
</g>
<g id="text_21">
<g transform="translate(168.137791 122.046926)">
<text>
<tspan x="0" y="-0.875" style="font-style: oblique; font-size: 18px; font-family: 'DejaVu Sans', sans-serif">M</tspan>
<tspan x="29.543555" y="-0.875" style="font-style: oblique; font-size: 18px; font-family: 'DejaVu Sans', sans-serif">L</tspan>
<tspan x="15.530273" y="2.078125" style="font-style: oblique; font-size: 12.6px; font-family: 'DejaVu Sans', sans-serif">y</tspan>
<tspan x="23.479102" y="-0.875" style="font-size: 18px; font-family: 'DejaVu Sans', sans-serif">/</tspan>
</text>
</g>
</g>
<g id="line2d_27">
<path d="M 117.737791 144.004113 
L 135.737791 144.004113 
L 153.737791 144.004113 
" style="fill: none; stroke: #d62728; stroke-width: 1.5; stroke-linecap: square"/>
</g>
<g id="text_22">
<g transform="translate(168.137791 150.304113)">
<text>
<tspan x="0" y="-0.875" style="font-style: oblique; font-size: 18px; font-family: 'DejaVu Sans', sans-serif">M</tspan>
<tspan x="28.700684" y="-0.875" style="font-style: oblique; font-size: 18px; font-family: 'DejaVu Sans', sans-serif">L</tspan>
<tspan x="15.530273" y="2.078125" style="font-style: oblique; font-size: 12.6px; font-family: 'DejaVu Sans', sans-serif">z</tspan>
<tspan x="22.63623" y="-0.875" style="font-size: 18px; font-family: 'DejaVu Sans', sans-serif">/</tspan>
</text>
</g>
</g>
<g id="line2d_28">
<path d="M 117.737791 170.424738 
L 135.737791 170.424738 
L 153.737791 170.424738 
" style="fill: none; stroke: #9467bd; stroke-width: 1.5; stroke-linecap: square"/>
</g>
<g id="text_23">
<g transform="translate(168.137791 176.724738)">
<text>
<tspan x="0" y="-0.34375" style="font-style: oblique; font-size: 18px; font-family: 'DejaVu Sans', sans-serif">G</tspan>
<tspan x="20.970703" y="-0.34375" style="font-style: oblique; font-size: 18px; font-family: 'DejaVu Sans', sans-serif">t</tspan>
<tspan x="41.115234" y="-0.34375" style="font-style: oblique; font-size: 18px; font-family: 'DejaVu Sans', sans-serif">L</tspan>
<tspan x="13.948242" y="-0.34375" style="font-size: 18px; font-family: 'DejaVu Sans', sans-serif">(</tspan>
<tspan x="28.02832" y="-0.34375" style="font-size: 18px; font-family: 'DejaVu Sans', sans-serif">)</tspan>
<tspan x="35.050781" y="-0.34375" style="font-size: 18px; font-family: 'DejaVu Sans', sans-serif">/</tspan>
</text>
</g>
</g>
</g>
</g>
<g id="axes_2">
<g id="patch_7">
<path d="M 379.651163 152.034884 
L 574.781977 152.034884 
L 574.781977 31.104651 
L 379.651163 31.104651 
z
" style="fill: #ffffff"/>
</g>
<g id="matplotlib.axis_3">
<g id="xtick_10">
<g id="line2d_29">
<g>
<path d="M 0 0 
L 0 3.5 
" transform="translate(379.651163 152.034884)" style="stroke: #000000"/>
</g>
</g>
<g id="text_24">
<text style="font-size: 18px; font-family: 'DejaVu Sans', sans-serif; text-anchor: middle" x="379.651163" y="172.712071" transform="rotate(-0 379.651163 172.712071)">0.0</text>
</g>
</g>
<g id="xtick_11">
<g id="line2d_30">
<g>
<path d="M 0 0 
L 0 3.5 
" transform="translate(477.21657 152.034884)" style="stroke: #000000"/>
</g>
</g>
<g id="text_25">
<text style="font-size: 18px; font-family: 'DejaVu Sans', sans-serif; text-anchor: middle" x="477.21657" y="172.712071" transform="rotate(-0 477.21657 172.712071)">0.5</text>
</g>
</g>
<g id="xtick_12">
<g id="line2d_31">
<g>
<path d="M 0 0 
L 0 3.5 
" transform="translate(574.781977 152.034884)" style="stroke: #000000"/>
</g>
</g>
<g id="text_26">
<text style="font-size: 18px; font-family: 'DejaVu Sans', sans-serif; text-anchor: middle" x="574.781977" y="172.712071" transform="rotate(-0 574.781977 172.712071)">1.0</text>
</g>
</g>
</g>
<g id="matplotlib.axis_4">
<g id="ytick_10">
<g id="line2d_32">
<g>
<path d="M 0 0 
L -3.5 0 
" transform="translate(379.651163 116.567438)" style="stroke: #000000"/>
</g>
</g>
<g id="text_27">
<text style="font-size: 18px; font-family: 'DejaVu Sans', sans-serif; text-anchor: end" x="372.651163" y="123.406032" transform="rotate(-0 372.651163 123.406032)">0.13</text>
</g>
</g>
<g id="ytick_11">
<g id="line2d_33">
<g>
<path d="M 0 0 
L -3.5 0 
" transform="translate(379.651163 56.757244)" style="stroke: #000000"/>
</g>
</g>
<g id="text_28">
<text style="font-size: 18px; font-family: 'DejaVu Sans', sans-serif; text-anchor: end" x="372.651163" y="63.595837" transform="rotate(-0 372.651163 63.595837)">0.14</text>
</g>
</g>
</g>
<g id="line2d_34">
<path d="M 379.651163 146.657789 
L 382.090298 146.517079 
L 384.529433 146.169209 
L 386.968568 145.619613 
L 389.407703 144.873727 
L 392.334666 143.727212 
L 395.261628 142.315258 
L 398.18859 140.647256 
L 401.115552 138.732597 
L 404.042515 136.580673 
L 407.457304 133.782748 
L 410.872093 130.689577 
L 414.286882 127.316072 
L 418.189499 123.136505 
L 422.092115 118.632528 
L 426.482558 113.205504 
L 431.360828 106.77262 
L 437.214753 98.64666 
L 455.75218 72.600215 
L 460.142624 66.933406 
L 464.04524 62.22831 
L 467.947856 57.882154 
L 471.362645 54.383564 
L 474.777435 51.176455 
L 478.192224 48.267957 
L 481.607013 45.665201 
L 485.021802 43.375317 
L 487.948765 41.666984 
L 490.875727 40.198246 
L 493.802689 38.973592 
L 496.729651 37.997513 
L 499.656613 37.274499 
L 502.583576 36.80904 
L 505.510538 36.605627 
L 507.949673 36.63953 
L 510.388808 36.861125 
L 512.827943 37.273011 
L 515.267078 37.877788 
L 517.706214 38.678053 
L 520.145349 39.676405 
L 523.072311 41.139562 
L 525.999273 42.896196 
L 528.926235 44.950797 
L 531.853198 47.307857 
L 534.78016 49.971866 
L 537.707122 52.945137 
L 541.121911 56.765703 
L 545.024528 61.497345 
L 549.902798 67.782378 
L 564.049782 86.253065 
L 569.903706 93.321372 
L 574.781977 99.021086 
L 574.781977 99.021086 
" style="fill: none; stroke: #1f77b4; stroke-width: 1.5"/>
</g>
<g id="patch_8">
<path d="M 379.651163 152.034884 
L 379.651163 31.104651 
" style="fill: none; stroke: #000000; stroke-linejoin: miter; stroke-linecap: square"/>
</g>
<g id="patch_9">
<path d="M 574.781977 152.034884 
L 574.781977 31.104651 
" style="fill: none; stroke: #000000; stroke-linejoin: miter; stroke-linecap: square"/>
</g>
<g id="patch_10">
<path d="M 379.651163 152.034884 
L 574.781977 152.034884 
" style="fill: none; stroke: #000000; stroke-linejoin: miter; stroke-linecap: square"/>
</g>
<g id="patch_11">
<path d="M 379.651163 31.104651 
L 574.781977 31.104651 
" style="fill: none; stroke: #000000; stroke-linejoin: miter; stroke-linecap: square"/>
</g>
<g id="legend_2">
<g id="patch_12">
<path d="M 448.421977 143.034884 
L 562.181977 143.034884 
Q 565.781977 143.034884 565.781977 139.434884 
L 565.781977 114.814259 
Q 565.781977 111.214259 562.181977 111.214259 
L 448.421977 111.214259 
Q 444.821977 111.214259 444.821977 114.814259 
L 444.821977 139.434884 
Q 444.821977 143.034884 448.421977 143.034884 
z
" style="fill: #ffffff; opacity: 0.8; stroke: #cccccc; stroke-linejoin: miter"/>
</g>
<g id="line2d_35">
<path d="M 452.021977 125.791446 
L 470.021977 125.791446 
L 488.021977 125.791446 
" style="fill: none; stroke: #1f77b4; stroke-width: 1.5; stroke-linecap: square"/>
</g>
<g id="text_29">
<g transform="translate(502.421977 132.091446)">
<text>
<tspan x="0" y="-0.875" style="font-style: oblique; font-size: 18px; font-family: 'DejaVu Sans', sans-serif">H</tspan>
<tspan x="45.987012" y="-0.875" style="font-style: oblique; font-size: 18px; font-family: 'DejaVu Sans', sans-serif">L</tspan>
<tspan x="13.535156" y="2.078125" style="font-size: 12.6px; font-family: 'DejaVu Sans', sans-serif">X</tspan>
<tspan x="22.166895" y="2.078125" style="font-size: 12.6px; font-family: 'DejaVu Sans', sans-serif">X</tspan>
<tspan x="30.798633" y="2.078125" style="font-size: 12.6px; font-family: 'DejaVu Sans', sans-serif">Z</tspan>
<tspan x="39.922559" y="-0.875" style="font-size: 18px; font-family: 'DejaVu Sans', sans-serif">/</tspan>
</text>
</g>
</g>
</g>
</g>
</g>
</svg>

</body></html>
